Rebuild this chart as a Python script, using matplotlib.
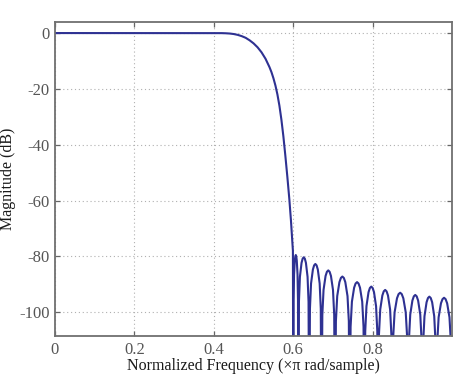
import matplotlib
matplotlib.use("Agg")
import matplotlib.pyplot as plt

# passband + transition band
pass_freq = [0.0, 0.40, 0.42, 0.43, 0.44, 0.45, 0.46, 0.47, 0.48, 0.49, 0.50,
             0.51, 0.52, 0.53, 0.54, 0.545, 0.55, 0.555, 0.56, 0.565, 0.57,
             0.575, 0.58, 0.585, 0.59, 0.594, 0.597, 0.599]
pass_db = [0.0, 0.0, -0.03, -0.08, -0.17, -0.35, -0.65, -1.1, -1.7, -2.6, -3.7,
           -5.1, -6.9, -9.2, -12.2, -14.0, -16.2, -18.8, -22.0, -26.0, -31.0,
           -37.0, -44.0, -51.5, -59.5, -67.0, -73.5, -78.0]

# stopband lobes: null, rise, peak, fall ... (nulls go below the axis)
stop_freq = [
    0.600,
    0.60075, 0.60188, 0.60375, 0.605, 0.60625, 0.6075, 0.60875, 0.61063, 0.61175, 0.6125,
    0.61415, 0.61663, 0.62075, 0.6235, 0.62625, 0.629, 0.63175, 0.63588, 0.63835, 0.640,
    0.64186, 0.64465, 0.6493, 0.6524, 0.6555, 0.6586, 0.6617, 0.66635, 0.66914, 0.671,
    0.67304, 0.6761, 0.6812, 0.6846, 0.688, 0.6914, 0.6948, 0.6999, 0.70296, 0.705,
    0.70722, 0.71055, 0.7161, 0.7198, 0.7235, 0.7272, 0.7309, 0.73645, 0.73978, 0.742,
    0.74422, 0.74755, 0.7531, 0.7568, 0.7605, 0.7642, 0.7679, 0.77345, 0.77678, 0.779,
    0.78107, 0.78418, 0.78935, 0.7928, 0.79625, 0.7997, 0.80315, 0.80833, 0.81143, 0.8135,
    0.81563, 0.81883, 0.82415, 0.8277, 0.83125, 0.8348, 0.83835, 0.84368, 0.84687, 0.849,
    0.8514, 0.855, 0.861, 0.865, 0.869, 0.873, 0.877, 0.883, 0.8866, 0.889,
    0.89116, 0.8944, 0.8998, 0.9034, 0.907, 0.9106, 0.9142, 0.9196, 0.92284, 0.925,
    0.9271, 0.93025, 0.9355, 0.939, 0.9425, 0.946, 0.9495, 0.95475, 0.9579, 0.960,
    0.96234, 0.96585, 0.9717, 0.9756, 0.9795, 0.9834, 0.9873, 0.99315, 0.99666, 0.999,
]
stop_db = [
    -150,
    -95.5, -86.5, -81.5, -80.0, -79.5, -80.0, -81.5, -86.5, -95.5, -150,
    -96.3, -87.3, -82.3, -80.8, -80.3, -80.8, -82.3, -87.3, -96.3, -150,
    -98.7, -89.7, -84.7, -83.2, -82.7, -83.2, -84.7, -89.7, -98.7, -150,
    -101.0, -92.0, -87.0, -85.5, -85.0, -85.5, -87.0, -92.0, -101.0, -150,
    -103.2, -94.2, -89.2, -87.7, -87.2, -87.7, -89.2, -94.2, -103.2, -150,
    -105.2, -96.2, -91.2, -89.7, -89.2, -89.7, -91.2, -96.2, -105.2, -150,
    -106.8, -97.8, -92.8, -91.3, -90.8, -91.3, -92.8, -97.8, -106.8, -150,
    -108.0, -99.0, -94.0, -92.5, -92.0, -92.5, -94.0, -99.0, -108.0, -150,
    -109.0, -100.0, -95.0, -93.5, -93.0, -93.5, -95.0, -100.0, -109.0, -150,
    -109.8, -100.8, -95.8, -94.3, -93.8, -94.3, -95.8, -100.8, -109.8, -150,
    -110.4, -101.4, -96.4, -94.9, -94.4, -94.9, -96.4, -101.4, -110.4, -150,
    -110.8, -101.8, -96.8, -95.3, -94.8, -95.3, -96.8, -101.8, -110.8, -150,
]

x_ticks = [0, 0.2, 0.4, 0.6, 0.8]
x_labels = ["0", "0.2", "0.4", "0.6", "0.8"]
y_ticks = [0, -20, -40, -60, -80, -100]

plt.rcParams['font.family'] = ['Liberation Serif', 'DejaVu Serif']
plt.rcParams['axes.unicode_minus'] = False

fig = plt.figure(figsize=(4.74, 3.84), dpi=100)
ax = fig.add_axes([0.116, 0.125, 0.838, 0.818])

ax.plot(pass_freq + stop_freq, pass_db + stop_db, color='#2e3192', lw=1.5,
        solid_joinstyle='round')

ax.set_xlim(0, 1.0)
ax.set_ylim(-108.5, 4)
ax.set_xticks(x_ticks)
ax.set_xticklabels(x_labels)
ax.set_yticks(y_ticks)
ax.grid(True, linestyle=(0, (1, 2.5)), color='#b0b0b0', lw=0.8)

ax.tick_params(direction='in', top=True, right=True, length=3.5,
               width=0.9, color='#666666', labelcolor='#555555',
               labelsize=12, pad=4)
for s in ax.spines.values():
    s.set_color('#707070')
    s.set_linewidth(1.3)

ax.set_xlabel('Normalized Frequency (×π rad/sample)', fontsize=11.5,
              color='#1a1a1a', labelpad=0)
ax.set_ylabel('Magnitude (dB)', fontsize=11.5, color='#1a1a1a', labelpad=2)

fig.savefig('out.png', dpi=100)
